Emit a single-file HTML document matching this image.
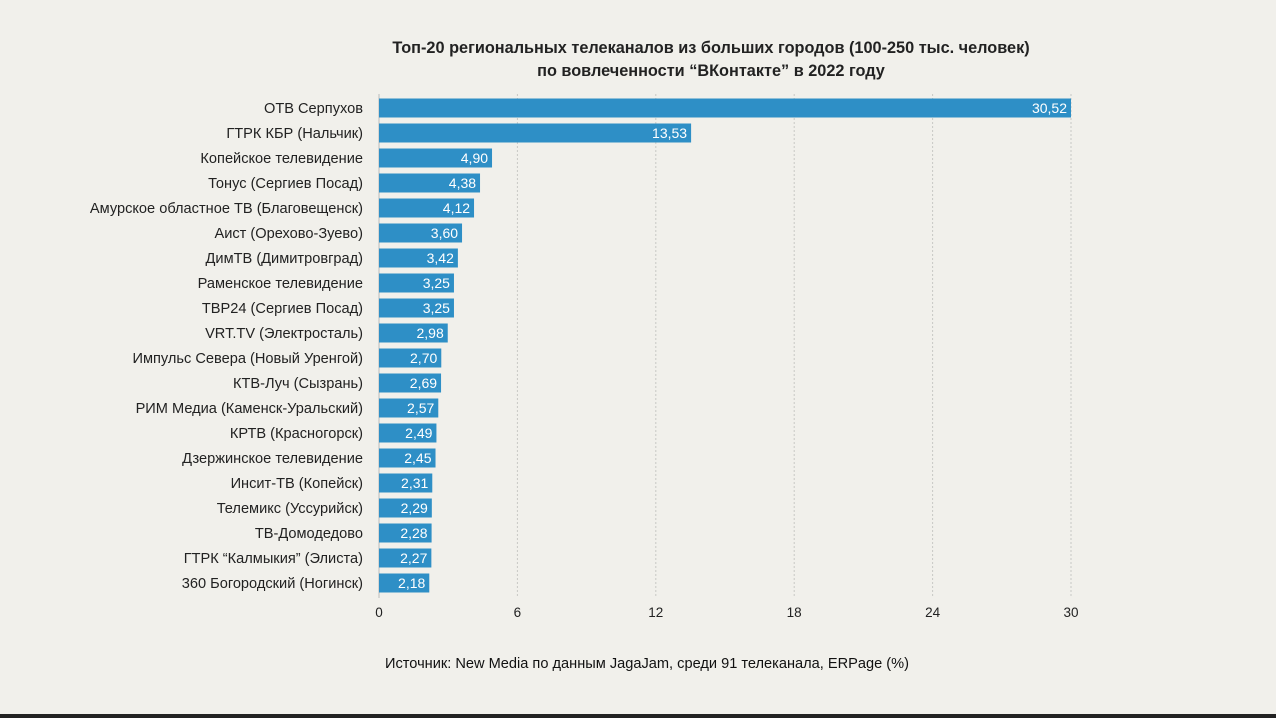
<!DOCTYPE html>
<html><head><meta charset="utf-8"><style>
html,body{margin:0;padding:0;background:#f1f0eb;}
svg{display:block;font-family:"Liberation Sans","Noto Sans CJK SC",sans-serif;}
</style></head><body>
<svg id="chart" width="1276" height="718">
<rect x="0" y="0" width="1276" height="718" fill="#f1f0eb"/>
<text x="711" y="53" text-anchor="middle" font-size="16.3" font-weight="bold" fill="#222">Топ-20 региональных телеканалов из больших городов (100-250 тыс. человек)</text>
<text x="711" y="76" text-anchor="middle" font-size="16.3" font-weight="bold" fill="#222">по вовлеченности “ВКонтакте” в 2022 году</text>
<g id="grid"></g><g id="bars"></g><g id="ticks"></g>
<text x="647" y="668" text-anchor="middle" font-size="14.6" fill="#111">Источник: New Media по данным JagaJam, среди 91 телеканала, ERPage (%)</text>
<rect x="0" y="714" width="1276" height="4" fill="#222"/>
</svg>
<script>
const categories=["ОТВ Серпухов","ГТРК КБР (Нальчик)","Копейское телевидение","Тонус (Сергиев Посад)","Амурское областное ТВ (Благовещенск)","Аист (Орехово-Зуево)","ДимТВ (Димитровград)","Раменское телевидение","ТВР24 (Сергиев Посад)","VRT.TV (Электросталь)","Импульс Севера (Новый Уренгой)","КТВ-Луч (Сызрань)","РИМ Медиа (Каменск-Уральский)","КРТВ (Красногорск)","Дзержинское телевидение","Инсит-ТВ (Копейск)","Телемикс (Уссурийск)","ТВ-Домодедово","ГТРК “Калмыкия” (Элиста)","360 Богородский (Ногинск)"];
const values=[30.52,13.53,4.90,4.38,4.12,3.60,3.42,3.25,3.25,2.98,2.70,2.69,2.57,2.49,2.45,2.31,2.29,2.28,2.27,2.18];
const ticks=[0,6,12,18,24,30];
const NS="http://www.w3.org/2000/svg";
const x0=379,x1=1071,xmax=30;
const xs=v=>x0+(Math.min(v,xmax)/xmax)*(x1-x0);
const yTop=98.5,step=25,bh=19;
const ys=i=>yTop+i*step;
function mk(t,a,p){const e=document.createElementNS(NS,t);for(const k in a)e.setAttribute(k,a[k]);p.appendChild(e);return e;}
const G=document.getElementById('grid'),B=document.getElementById('bars'),T=document.getElementById('ticks');
ticks.forEach(t=>{
 const l=mk('line',{x1:xs(t),x2:xs(t),y1:94,y2:598,stroke:t===0?'#bbb':'#c8c8c4','stroke-dasharray':t===0?'':'2,2','stroke-width':1},G);
 
 
 const tx=mk('text',{x:xs(t),y:617,'text-anchor':'middle','font-size':13.5,fill:'#222'},T);
 tx.textContent=t;
 
 
});
categories.forEach((c,i)=>{
 const y=ys(i);
 const lb=mk('text',{x:363,y:y+bh/2+5,'text-anchor':'end','font-size':14.6,fill:'#222'},B);
 lb.textContent=c;
 
 
 const r=mk('rect',{x:x0,y:y,width:xs(values[i])-x0,height:bh,fill:'#2e8fc6'},B);
 
 
 const v=mk('text',{x:xs(values[i])-4,y:y+bh/2+5,'text-anchor':'end','font-size':14,fill:'#fff','font-family':'"Liberation Sans Narrow","Liberation Sans",sans-serif'},B);
 v.textContent=values[i].toFixed(2).replace('.',',');
 
 
});
</script>
</body></html>
